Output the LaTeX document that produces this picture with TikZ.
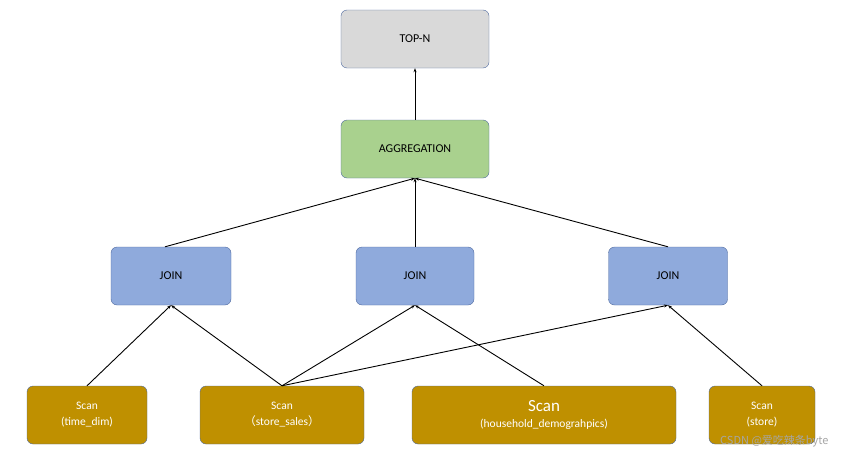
\documentclass[tikz,border=0pt]{standalone}
\usepackage{fontspec}
\setmainfont{Carlito}
\newfontfamily\cjk{Noto Sans CJK SC}
\usetikzlibrary{arrows.meta}
\definecolor{bd}{HTML}{4F6A9F}
\definecolor{gr}{HTML}{D9D9D9}
\definecolor{gn}{HTML}{A9D18E}
\definecolor{bl}{HTML}{8FAADC}
\definecolor{gd}{HTML}{BF9000}
\begin{document}
\begin{tikzpicture}[x=1pt,y=-1pt,
  box/.style={draw=bd,rounded corners=6pt,minimum height=58pt,inner sep=0pt,align=center,font=\fontsize{12}{14}\selectfont},
  scan/.style={box,fill=gd,text=white,font=\fontsize{11.5}{16}\selectfont},
  ar/.style={-{Stealth[length=4pt,width=3pt]},line width=0.9pt}]
\useasboundingbox (0,0) rectangle (846,463);
\node[box,fill=gr,minimum width=148pt] (top) at (415,39) {TOP-N};
\node[box,fill=gn,minimum width=148pt] (agg) at (415,149) {AGGREGATION};
\node[box,fill=bl,minimum width=120pt] (j1) at (171,276) {JOIN};
\node[box,fill=bl,minimum width=118pt] (j2) at (415,276) {JOIN};
\node[box,fill=bl,minimum width=119pt] (j3) at (668,276) {JOIN};
\node[scan,minimum width=120pt] (s1) at (87,415) {Scan\\(time\_dim)};
\node[scan,minimum width=164pt] (s2) at (282,415) {Scan\\{\cjk （}store\_sales{\cjk ）}};
\node[scan,minimum width=264pt] (s3) at (544,415) {{\fontsize{17}{19}\selectfont Scan}\\(household\_demograhpics)};
\node[scan,minimum width=106pt] (s4) at (762,415) {Scan\\(store)};
\draw[ar] (agg.north) -- (top.south);
\draw[ar] ([xshift=-6pt]j1.north) -- (agg.south);
\draw[ar] (j2.north) -- (agg.south);
\draw[ar] (j3.north) -- (agg.south);
\draw[ar] (s1.north) -- (j1.south);
\draw[ar] (s2.north) -- (j1.south);
\draw[ar] (s2.north) -- (j2.south);
\draw[ar] (s2.north) -- (j3.south);
\draw[ar] (s3.north) -- (j2.south);
\draw[ar] (s4.north) -- (j3.south);
\node[text=gray!70,font=\cjk\fontsize{11}{13}\selectfont,anchor=east] (wm) at (832,441) {CSDN @爱吃辣条byte};
\end{tikzpicture}
\end{document}
